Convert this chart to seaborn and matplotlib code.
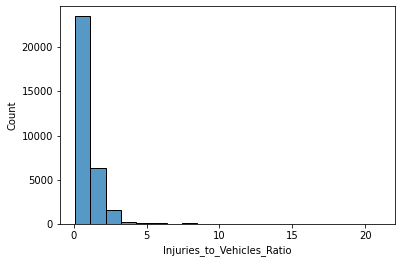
import matplotlib
matplotlib.use("Agg")
import matplotlib.pyplot as plt
import seaborn as sns
import numpy as np
import pandas as pd

# Range of the ratio and number of bins (20 equal bins)
bin_min = 0.1
bin_max = 21.0
n_bins = 20
# Counts per bin
counts = [23490, 6330, 1560, 230, 90, 80, 20, 100, 10, 5,
          3, 2, 1, 1, 1, 0, 0, 0, 0, 1]

edges = np.linspace(bin_min, bin_max, n_bins + 1)
centers = (edges[:-1] + edges[1:]) / 2
df = pd.DataFrame({"Injuries_to_Vehicles_Ratio": centers, "Count": counts})

fig = plt.figure(figsize=(402/72, 263/72), dpi=72)
ax = fig.add_subplot(111)
fig.subplots_adjust(left=60/402, right=395/402, top=1-6/263, bottom=1-224/263)
sns.histplot(data=df, x="Injuries_to_Vehicles_Ratio", weights="Count",
             bins=n_bins, binrange=(bin_min, bin_max), ax=ax)
ax.set_xlabel("Injuries_to_Vehicles_Ratio")
ax.set_ylabel("Count")
fig.savefig("out.png", dpi=72)
